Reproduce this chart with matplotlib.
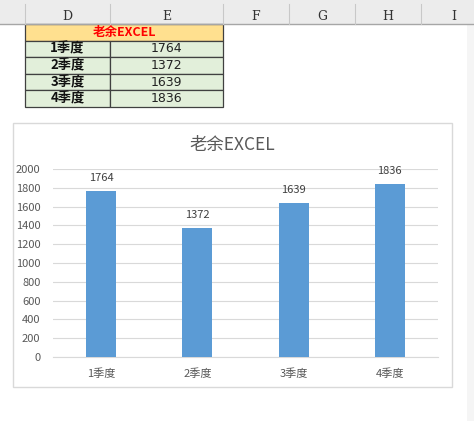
import matplotlib.pyplot as plt
from matplotlib.patches import Rectangle

plt.rcParams['font.family'] = ['Noto Sans CJK SC', 'DejaVu Sans']

# data
title = "老余EXCEL"
quarters = ["1季度", "2季度", "3季度", "4季度"]
values = [1764, 1372, 1639, 1836]
col_letters = ["D", "E", "F", "G", "H", "I"]
y_ticks = [0, 200, 400, 600, 800, 1000, 1200, 1400, 1600, 1800, 2000]

W, H = 474, 421
fig = plt.figure(figsize=(W / 100, H / 100), dpi=100)

# sheet layer in pixel coords
bg = fig.add_axes([0, 0, 1, 1])
bg.set_xlim(0, W)
bg.set_ylim(H, 0)
bg.axis("off")

# column header
col_edges = [25, 110, 223, 289, 355, 421, 487]
bg.add_patch(Rectangle((0, 0), W, 24, facecolor="#ECECEC", edgecolor="none"))
bg.plot([0, W], [24, 24], color="#A6A6A6", lw=1)
for x in col_edges[:-1]:
    bg.plot([x, x], [4, 24], color="#C8C8C8", lw=0.8)
for i, letter in enumerate(col_letters):
    cx = (col_edges[i] + col_edges[i + 1]) / 2
    bg.text(cx, 16, letter, ha="center", va="center", fontsize=9,
            family="DejaVu Serif", color="#333333")

# table
tx0, tx1, tx2 = 25, 110, 223
row_top = 24
row_h = 16.6
bg.add_patch(Rectangle((tx0, row_top), tx2 - tx0, row_h, facecolor="#FFE08F",
                       edgecolor="#404040", lw=0.9))
bg.text((tx0 + tx2) / 2, row_top + row_h / 2, title, ha="center", va="center",
        fontsize=9, color="#FF0000", fontweight="bold")
for i, (q, v) in enumerate(zip(quarters, values)):
    y = row_top + row_h * (i + 1)
    bg.add_patch(Rectangle((tx0, y), tx1 - tx0, row_h, facecolor="#E2EFDA",
                           edgecolor="#404040", lw=0.9))
    bg.add_patch(Rectangle((tx1, y), tx2 - tx1, row_h, facecolor="#E2EFDA",
                           edgecolor="#404040", lw=0.9))
    bg.text((tx0 + tx1) / 2, y + row_h / 2, q, ha="center", va="center",
            fontsize=9.5, fontweight="bold", color="#111111")
    bg.text((tx1 + tx2) / 2, y + row_h / 2, str(v), ha="center", va="center",
            fontsize=9, family="DejaVu Sans", color="#222222")

# chart frame
bg.add_patch(Rectangle((13, 123), 439, 264, facecolor="white",
                       edgecolor="#D9D9D9", lw=1))
bg.text(232, 145, title, ha="center", va="center", fontsize=12.5, color="#595959")
bg.add_patch(Rectangle((467, 24), 7, H - 24, facecolor="#F5F5F5", edgecolor="none"))

# chart
ax = fig.add_axes([53 / W, (H - 357) / H, 385 / W, 188 / H])
x = range(len(quarters))
bars = ax.bar(x, values, width=0.31, color="#5B9BD5", zorder=3)
ax.set_xlim(-0.5, len(quarters) - 0.5)
ax.set_ylim(0, 2000)
ax.set_yticks(y_ticks)
ax.set_xticks(list(x))
ax.set_xticklabels(quarters)
ax.grid(axis="y", color="#D9D9D9", lw=0.8, zorder=0)
for s in ["top", "right", "left"]:
    ax.spines[s].set_visible(False)
ax.spines["bottom"].set_color("#D9D9D9")
ax.tick_params(length=0, labelsize=8, colors="#595959")
ax.tick_params(axis="y", pad=9)
ax.tick_params(axis="x", pad=8)
ax.bar_label(bars, labels=[str(v) for v in values], padding=6, fontsize=8,
             color="#404040")

fig.savefig("out.png", dpi=100)
